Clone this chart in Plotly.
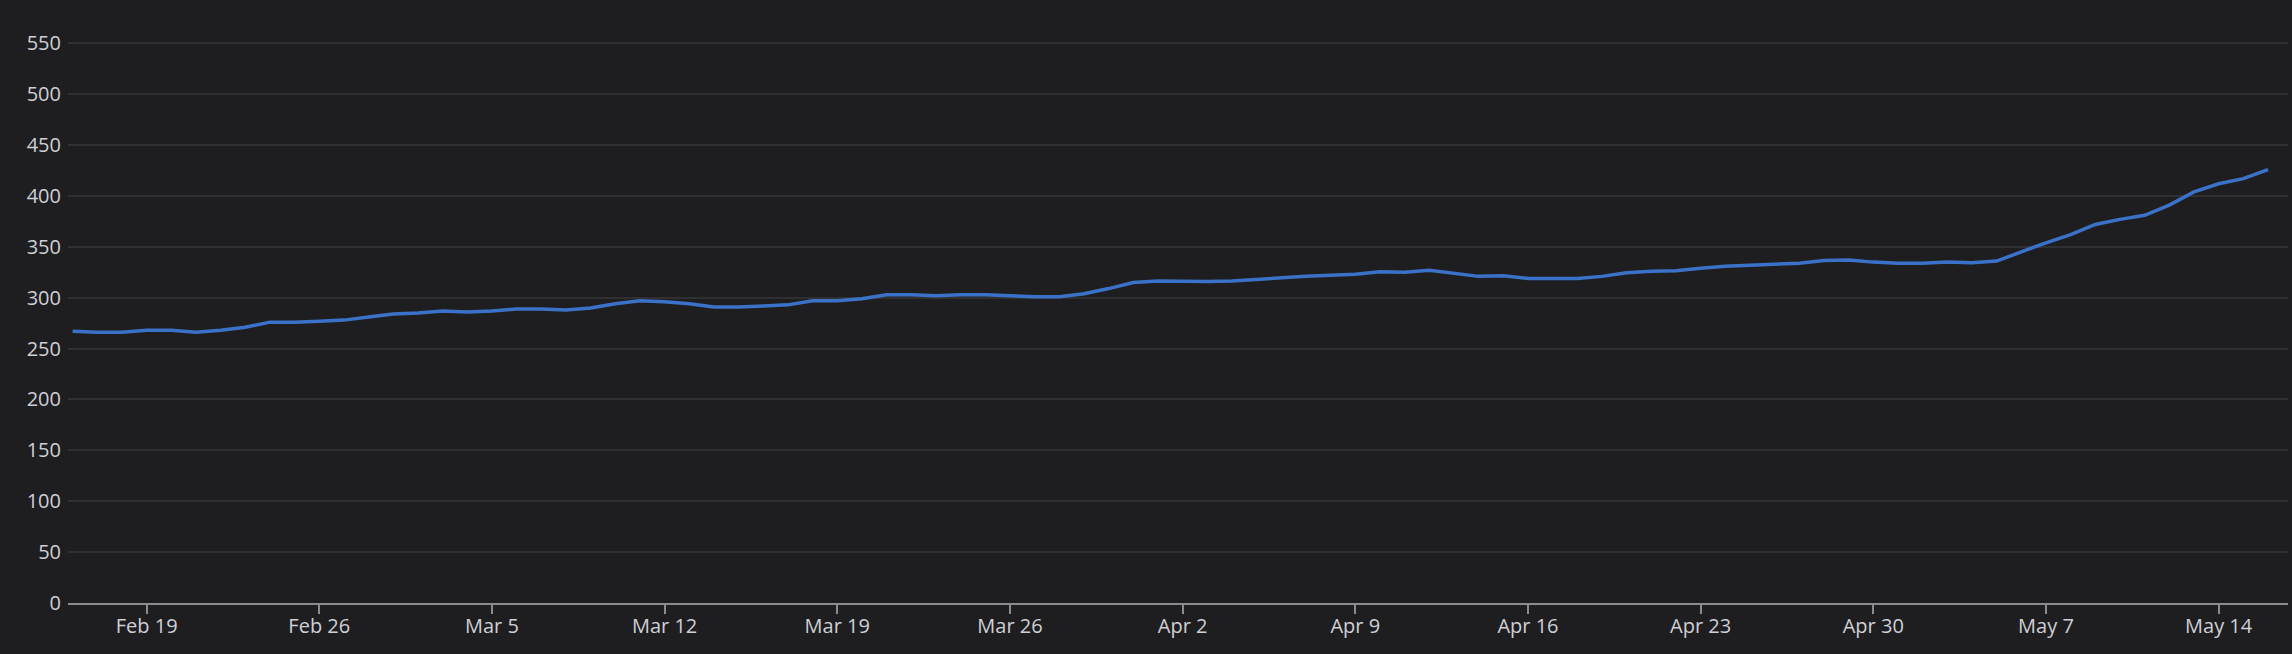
import pandas as pd
import plotly.graph_objects as go

# Daily series, Feb 16 2023 .. May 16 2023 (90 points)
start_date = "2023-02-16"
n_days = 90
values = [
    267, 266, 266, 268, 268, 266, 268, 271, 276, 276,
    277, 278, 281, 284, 285, 287, 286, 287, 289, 289,
    288, 290, 294, 297, 296, 294, 291, 291, 292, 293,
    297, 297, 299, 303, 303, 302, 303, 303, 302, 301,
    301, 304, 309, 315, 316.5, 316, 316, 316.5, 318, 320,
    321, 322, 323, 325.5, 325, 327, 324, 321, 321.5, 319,
    319, 319, 321, 324.5, 326, 326.5, 329, 331, 332, 333,
    334, 336.5, 337, 335, 334, 334, 335, 334.5, 336, 345,
    354, 362, 372, 377, 381, 391, 404, 412, 417, 426,
]
dates = pd.date_range(start_date, periods=n_days, freq="D")

tick_dates = ["2023-02-19", "2023-02-26", "2023-03-05", "2023-03-12", "2023-03-19",
              "2023-03-26", "2023-04-02", "2023-04-09", "2023-04-16", "2023-04-23",
              "2023-04-30", "2023-05-07", "2023-05-14"]
tick_labels = ["Feb 19", "Feb 26", "Mar 5", "Mar 12", "Mar 19", "Mar 26", "Apr 2",
               "Apr 9", "Apr 16", "Apr 23", "Apr 30", "May 7", "May 14"]
y_ticks = [0, 50, 100, 150, 200, 250, 300, 350, 400, 450, 500, 550]

BG = "#1e1e20"
TEXT = "#cfcfd6"
GRID = "#303033"
AXIS = "#8c8c8f"
LINE = "#3b72c9"

fig = go.Figure()
fig.add_trace(go.Scatter(
    x=dates, y=values, mode="lines",
    line=dict(color=LINE, width=3.5),
    hoverinfo="x+y", showlegend=False,
))

fig.update_layout(
    width=2292, height=654,
    paper_bgcolor=BG, plot_bgcolor=BG,
    margin=dict(l=68, r=4, t=23, b=51),
    font=dict(family="Open Sans", size=20, color=TEXT),
    xaxis=dict(
        range=["2023-02-15 19:30", "2023-05-16 19:30"],
        tickvals=tick_dates, ticktext=tick_labels,
        showgrid=False, showline=True, linecolor=AXIS, linewidth=2,
        ticks="outside", ticklen=9, tickwidth=2, tickcolor=AXIS,
        ticklabelstandoff=-5,
        zeroline=False, fixedrange=True,
    ),
    yaxis=dict(
        range=[0, 570], tickvals=y_ticks,
        showgrid=True, gridcolor=GRID, gridwidth=2,
        zeroline=False, showline=False, ticks="", ticklabelstandoff=6,
        fixedrange=True,
    ),
)

fig.write_html(
    "out.html",
    config={"displayModeBar": False},
    post_script="document.body.style.margin='0';document.body.style.background='#1e1e20';document.body.style.overflow='hidden';",
)
